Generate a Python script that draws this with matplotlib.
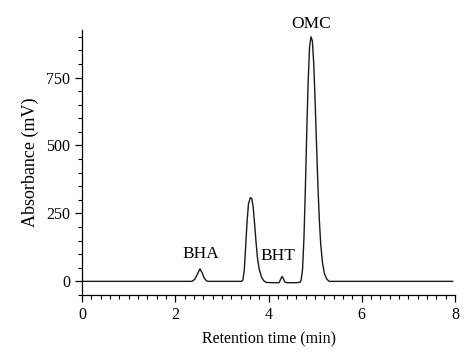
import matplotlib.pyplot as plt
from matplotlib.ticker import MultipleLocator

plt.rcParams["font.family"] = "Liberation Serif"

# Chromatogram trace (time in min, signal in mV)
time = [0.00, 2.36, 2.42, 2.47, 2.53, 2.58, 2.62, 2.67, 2.70,
        3.42, 3.45, 3.48, 3.51, 3.54, 3.57, 3.61, 3.64, 3.67, 3.70,
        3.73, 3.76, 3.80, 3.85, 3.90, 3.95, 4.10, 4.22,
        4.23, 4.26, 4.29, 4.32, 4.35, 4.40, 4.60, 4.68,
        4.70, 4.73, 4.76, 4.79, 4.82, 4.85, 4.88, 4.91, 4.94, 4.97,
        5.00, 5.03, 5.06, 5.09, 5.12, 5.16, 5.20, 5.25, 5.30, 7.95]
signal = [0, 0, 8, 25, 46, 30, 12, 2, 0,
          0, 5, 40, 130, 220, 285, 308, 305, 275, 215,
          150, 90, 45, 15, 2, -4, -5, -5,
          -4, 8, 18, 10, -3, -5, -5, -3,
          5, 45, 160, 340, 550, 735, 862, 900, 885, 800,
          660, 500, 350, 225, 135, 65, 28, 8, 0, 0]

peak_names = ["BHA", "BHT", "OMC"]
peak_label_x = [2.55, 4.2, 4.91]
peak_label_y = [72, 62, 918]

fig = plt.figure(figsize=(4.74, 3.61), dpi=100)
ax = fig.add_axes([0.173, 0.183, 0.787, 0.734])

ax.plot(time, signal, color="#1a1a1a", linewidth=1.0)

for name, tx, ty in zip(peak_names, peak_label_x, peak_label_y):
    ax.text(tx, ty, name, ha="center", va="bottom", fontsize=12.5, clip_on=False)

ax.set_xlim(0, 8)
ax.set_ylim(-50, 925)
ax.xaxis.set_major_locator(MultipleLocator(2))
ax.xaxis.set_minor_locator(MultipleLocator(0.2))
ax.yaxis.set_major_locator(MultipleLocator(250))
ax.yaxis.set_minor_locator(MultipleLocator(50))
ax.set_yticks([0, 250, 500, 750])

ax.spines["top"].set_visible(False)
ax.spines["right"].set_visible(False)
for s in ["left", "bottom"]:
    ax.spines[s].set_linewidth(0.9)
ax.tick_params(which="major", direction="out", length=5, width=0.9, labelsize=11.5)
ax.tick_params(which="minor", direction="out", length=3, width=0.8)

ax.set_xlabel("Retention time (min)", fontsize=11.5, labelpad=6)
ax.set_ylabel("Absorbance (mV)", fontsize=13, labelpad=5)

plt.savefig("out.png", dpi=100)
